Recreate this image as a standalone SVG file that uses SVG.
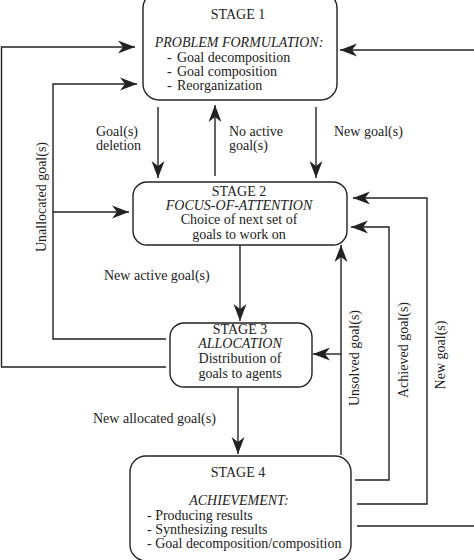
<svg xmlns="http://www.w3.org/2000/svg" width="474" height="560" viewBox="0 0 474 560">
<style>
.box{fill:#fff;stroke:#222;stroke-width:1.4}
.ln{fill:none;stroke:#222;stroke-width:1.4}
.t{font-family:"Liberation Serif","Times New Roman",serif;font-size:14px;fill:#222}
.c{text-anchor:middle}
.i{font-style:italic}
</style>
<defs>
<marker id="ah" markerUnits="userSpaceOnUse" markerWidth="20" markerHeight="14" viewBox="-18 -7 19 14" refX="0" refY="0" orient="auto">
<path d="M0,0 L-17,-6.5 L-12,0 L-17,6.5 Z" fill="#222"/>
</marker>
</defs>
<rect width="474" height="560" fill="#fff"/>
<g id="connectors">
<path class="ln" d="M166,367 H1.5 V47 H135" marker-end="url(#ah)"/>
<path class="ln" d="M166,339 H53 V84 H137" marker-end="url(#ah)"/>
<path class="ln" d="M53,212 H129" marker-end="url(#ah)"/>
<path class="ln" d="M158,107 V178" marker-end="url(#ah)"/>
<path class="ln" d="M215,176 V105" marker-end="url(#ah)"/>
<path class="ln" d="M316,107 V178" marker-end="url(#ah)"/>
<path class="ln" d="M474,50 H340" marker-end="url(#ah)"/>
<path class="ln" d="M357,526 H474"/>
<path class="ln" d="M357,504 H427 V198 H353" marker-end="url(#ah)"/>
<path class="ln" d="M355,480 H389 V227 H351" marker-end="url(#ah)"/>
<path class="ln" d="M341,455 V245" marker-end="url(#ah)"/>
<path class="ln" d="M341,354 H313" marker-end="url(#ah)"/>
<path class="ln" d="M240,245 V321" marker-end="url(#ah)"/>
<path class="ln" d="M238,388 V454" marker-end="url(#ah)"/>
<text class="t" x="96" y="136">Goal(s)</text>
<text class="t" x="96" y="150">deletion</text>
<text class="t" x="229" y="136">No active</text>
<text class="t" x="229" y="150">goal(s)</text>
<text class="t" x="334" y="136">New goal(s)</text>
<text class="t" x="104" y="280">New active goal(s)</text>
<text class="t" x="93" y="423">New allocated goal(s)</text>
<text class="t c" transform="translate(46,197) rotate(-90)">Unallocated goal(s)</text>
<text class="t c" transform="translate(359,358) rotate(-90)">Unsolved goal(s)</text>
<text class="t c" transform="translate(408,350) rotate(-90)">Achieved goal(s)</text>
<text class="t c" transform="translate(445,355) rotate(-90)">New goal(s)</text>
</g>
<g id="stage1">
<rect class="box" x="143" y="-8" width="194" height="108" rx="16"/>
<text class="t c" x="238" y="19">STAGE 1</text>
<text class="t c i" x="239" y="47">PROBLEM FORMULATION:</text>
<text class="t" y="62"><tspan x="167">-</tspan><tspan x="177">Goal decomposition</tspan></text>
<text class="t" y="76"><tspan x="167">-</tspan><tspan x="177">Goal composition</tspan></text>
<text class="t" y="90"><tspan x="167">-</tspan><tspan x="177">Reorganization</tspan></text>
</g>
<g id="stage2">
<rect class="box" x="133" y="182" width="214" height="63" rx="14"/>
<text class="t c" x="239" y="196">STAGE 2</text>
<text class="t c i" x="239" y="210">FOCUS-OF-ATTENTION</text>
<text class="t c" x="239" y="224">Choice of next set of</text>
<text class="t c" x="239" y="239">goals to work on</text>
</g>
<g id="stage3">
<rect class="box" x="170" y="323" width="142" height="64" rx="14"/>
<text class="t c" x="240" y="334">STAGE 3</text>
<text class="t c i" x="240" y="348">ALLOCATION</text>
<text class="t c" x="240" y="363">Distribution of</text>
<text class="t c" x="240" y="378">goals to agents</text>
</g>
<g id="stage4">
<rect class="box" x="130" y="456" width="221" height="105" rx="16"/>
<text class="t c" x="238" y="477">STAGE 4</text>
<text class="t c i" x="239" y="505">ACHIEVEMENT:</text>
<text class="t" x="147" y="520">- Producing results</text>
<text class="t" x="147" y="534">- Synthesizing results</text>
<text class="t" x="147" y="548">- Goal decomposition/composition</text>
</g>
</svg>
